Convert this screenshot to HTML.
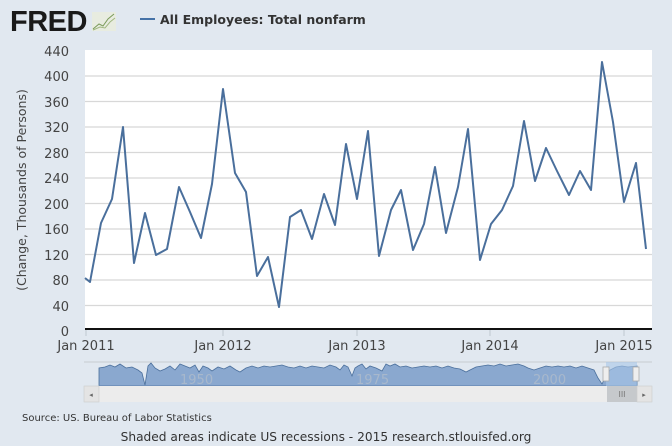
<!DOCTYPE html>
<html><head><meta charset="utf-8"><style>
html,body{margin:0;padding:0;}
body{width:672px;height:446px;background:#e1e8f0;overflow:hidden;font-family:"DejaVu Sans","Liberation Sans",sans-serif;}
</style></head><body>
<svg width="672" height="446" xmlns="http://www.w3.org/2000/svg" style="position:absolute;left:0;top:0">
<rect x="0" y="0" width="672" height="446" fill="#e1e8f0"/>
<text x="10" y="31" font-family="Liberation Sans, sans-serif" font-weight="bold" font-size="29" fill="#1a1a1a" letter-spacing="-0.5">FRED</text>
<rect x="92" y="12" width="24" height="19" fill="#e8ece0"/>
<polyline points="93,29 99,24 103,26 108,19 114,14" fill="none" stroke="#7a9a5a" stroke-width="1"/>
<polyline points="93,30 100,27 105,28 110,22 115,18" fill="none" stroke="#a0b880" stroke-width="1"/>
<line x1="140" y1="19" x2="155" y2="19" stroke="#4572a7" stroke-width="2"/>
<text x="160" y="24" font-size="12.5" font-weight="bold" fill="#333">All Employees: Total nonfarm</text>
<rect x="85" y="50" width="567" height="280" fill="#fff"/>
<g stroke="#d8d8d8" stroke-width="1.2">
<line x1="85" y1="76" x2="652" y2="76"/><line x1="85" y1="101.5" x2="652" y2="101.5"/>
<line x1="85" y1="127" x2="652" y2="127"/><line x1="85" y1="152.5" x2="652" y2="152.5"/>
<line x1="85" y1="178" x2="652" y2="178"/><line x1="85" y1="203.5" x2="652" y2="203.5"/>
<line x1="85" y1="229" x2="652" y2="229"/><line x1="85" y1="254.5" x2="652" y2="254.5"/>
<line x1="85" y1="280" x2="652" y2="280"/><line x1="85" y1="305.5" x2="652" y2="305.5"/>
</g>
<line x1="85" y1="329" x2="652" y2="329" stroke="#111" stroke-width="2"/>
<g stroke="#c0c8d0"><line x1="86" y1="330" x2="86" y2="336"/><line x1="223" y1="330" x2="223" y2="336"/><line x1="357" y1="330" x2="357" y2="336"/><line x1="490" y1="330" x2="490" y2="336"/><line x1="624" y1="330" x2="624" y2="336"/></g>
<polyline fill="none" stroke="#4a6f9c" stroke-width="2" stroke-linejoin="round" points="85,278 90,282 101,223 112,199 123,127 134,263 145,213 156,255 167,249 179,187 190,212 201,238 212,184 223,89 235,173 246,192 257,276 268,257 279,307 290,217 301,210 312,239 324,194 335,225 346,144 357,199 368,131 379,256 391,210 401,190 413,250 424,224 435,167 446,233 458,187 468,129 480,260 491,224 502,210 513,186 524,121 535,181 546,148 557,171 569,195 580,171 591,190 602,62 613,122 624,202 636,163 646,249"/>
<g font-size="13" fill="#444" text-anchor="end">
<text x="69" y="56">440</text><text x="69" y="81">400</text><text x="69" y="107">360</text><text x="69" y="132">320</text><text x="69" y="158">280</text><text x="69" y="183">240</text><text x="69" y="209">200</text><text x="69" y="234">160</text><text x="69" y="260">120</text><text x="69" y="285">80</text><text x="69" y="311">40</text><text x="69" y="336">0</text>
</g>
<text transform="translate(26,190) rotate(-90)" font-size="12.5" fill="#444" text-anchor="middle">(Change, Thousands of Persons)</text>
<g font-size="13" fill="#444" text-anchor="middle">
<text x="86" y="350">Jan 2011</text><text x="223" y="350">Jan 2012</text><text x="357" y="350">Jan 2013</text><text x="490" y="350">Jan 2014</text><text x="624" y="350">Jan 2015</text>
</g>
<line x1="84" y1="362" x2="652" y2="362" stroke="#c8ccd0"/>
<path fill="#8aa8cf" stroke="#4a6f9c" stroke-width="0.8" d="M99,386 L99,368 105,367 110,365 115,367 120,364 126,368 132,367 138,370 142,373 145,385 148,366 151,363 155,368 160,371 165,369 170,366 175,370 180,364 185,366 190,368 195,365 199,372 203,366 208,368 212,371 218,367 224,369 230,366 236,370 240,372 246,368 252,366 258,368 264,366 270,367 276,366 282,365 288,367 294,368 300,366 306,368 312,366 318,367 324,368 330,365 336,367 340,370 344,365 348,367 352,376 355,368 358,366 362,364 366,369 370,366 376,368 382,371 386,364 390,366 395,364 400,367 406,366 412,368 418,367 424,366 430,367 436,366 442,368 448,366 454,368 460,369 466,372 470,370 476,367 482,366 488,365 494,366 500,364 506,366 512,365 518,364 524,366 528,368 534,370 540,368 546,366 552,367 558,366 564,367 570,366 576,368 582,366 588,368 594,370 598,378 602,384 606,376 610,370 616,367 622,366 628,367 637,366 L637,386 Z"/>
<rect x="606" y="362" width="31" height="24" fill="#a9c6e8" opacity="0.6"/>
<rect x="603" y="367" width="6" height="14" fill="#eee" stroke="#aaa" stroke-width="0.8"/>
<rect x="633" y="367" width="6" height="14" fill="#eee" stroke="#aaa" stroke-width="0.8"/>
<rect x="84" y="386" width="568" height="16" fill="#ececec"/>
<rect x="84" y="386" width="15" height="16" fill="#e4e4e4" stroke="#ccc" stroke-width="0.6"/>
<text x="91" y="397" font-size="7" fill="#666" text-anchor="middle">◂</text>
<rect x="607" y="386" width="30" height="16" fill="#c6c9cc"/>
<text x="622" y="397" font-size="8" fill="#777" text-anchor="middle">III</text>
<rect x="637" y="386" width="15" height="16" fill="#e4e4e4" stroke="#ccc" stroke-width="0.6"/>
<text x="644" y="397" font-size="7" fill="#666" text-anchor="middle">▸</text>
<g font-size="13" fill="#a8b8cc"><text x="180" y="384">1950</text><text x="356" y="384">1975</text><text x="533" y="384">2000</text></g>
<text x="22" y="421" font-size="10" fill="#333">Source: US. Bureau of Labor Statistics</text>
<text x="326" y="441" font-size="12.2" fill="#333" text-anchor="middle">Shaded areas indicate US recessions - 2015 research.stlouisfed.org</text>
</svg>
</body></html>
